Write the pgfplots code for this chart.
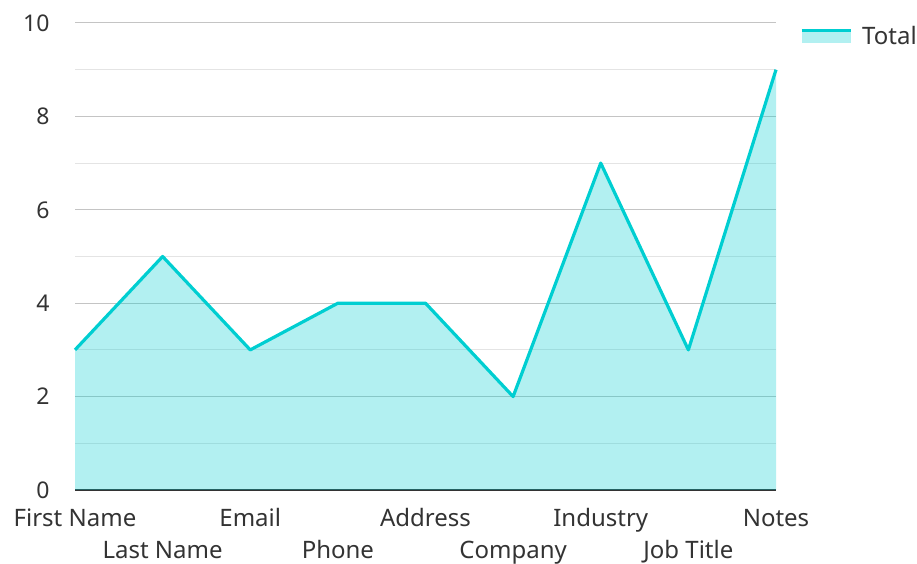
\documentclass[border=0pt]{standalone}
\usepackage{pgfplots}
\pgfplotsset{compat=1.18}
\usepackage{fontspec}
\setmainfont{Noto Sans}
\definecolor{tline}{HTML}{00CED1}
\definecolor{txt}{HTML}{333333}
\definecolor{majgrid}{HTML}{C4C4C4}
\definecolor{mingrid}{HTML}{E4E4E4}
\begin{document}
\begin{tikzpicture}
\useasboundingbox (0,0) rectangle (917pt,564pt);
\begin{axis}[
  at={(75pt,74pt)}, anchor=south west,
  scale only axis, width=701pt, height=467pt,
  xmin=0, xmax=8, ymin=0, ymax=10,
  axis lines=left,
  axis line style={-},
  y axis line style={draw=none},
  x axis line style={draw=txt, line width=2pt},
  ytick={0,2,...,10},
  minor ytick={1,3,...,9},
  ymajorgrids, yminorgrids,
  major grid style={draw=majgrid, line width=1pt},
  minor grid style={draw=mingrid, line width=1pt},
  major tick length=0pt, minor tick length=0pt,
  tick style={draw=none},
  /pgf/number format/assume math mode=true,
  yticklabel style={font=\fontsize{23}{27}\selectfont, text=txt, xshift=-22pt},
  xtick={0,...,8},
  xticklabels={{\strut First Name}, {\strut\\Last Name}, {\strut Email}, {\strut\\Phone}, {\strut Address}, {\strut\\Company}, {\strut Industry}, {\strut\\Job Title}, {\strut Notes}},
  xticklabel style={font=\fontsize{24}{32}\selectfont, text=txt, align=center, anchor=north, yshift=-14pt, inner sep=0pt},
  clip=false,
  legend style={at={(1,1)}, anchor=north west, xshift=24pt, yshift=-1pt, draw=none, fill=none, inner sep=0pt, font=\fontsize{24}{28}\selectfont, text=txt, /tikz/every odd column/.style={column sep=8pt}},
  legend cell align=left,
  legend image code/.code={
    \path[fill=tline, fill opacity=0.3, draw=none] (0pt,-7pt) rectangle (49pt,7pt);
    \path[draw=tline, line width=3pt] (0pt,5.5pt) -- (49pt,5.5pt);
  },
]
\addplot[draw=none, fill=tline, fill opacity=0.3, forget plot] coordinates {
 (0,3) (1,5) (2,3) (3,4) (4,4) (5,2) (6,7) (7,3) (8,9)
} \closedcycle;
\addplot[tline, line width=3.2pt, line join=round] coordinates {
 (0,3) (1,5) (2,3) (3,4) (4,4) (5,2) (6,7) (7,3) (8,9)
};
\addlegendentry{Total}
\end{axis}
\end{tikzpicture}
\end{document}
